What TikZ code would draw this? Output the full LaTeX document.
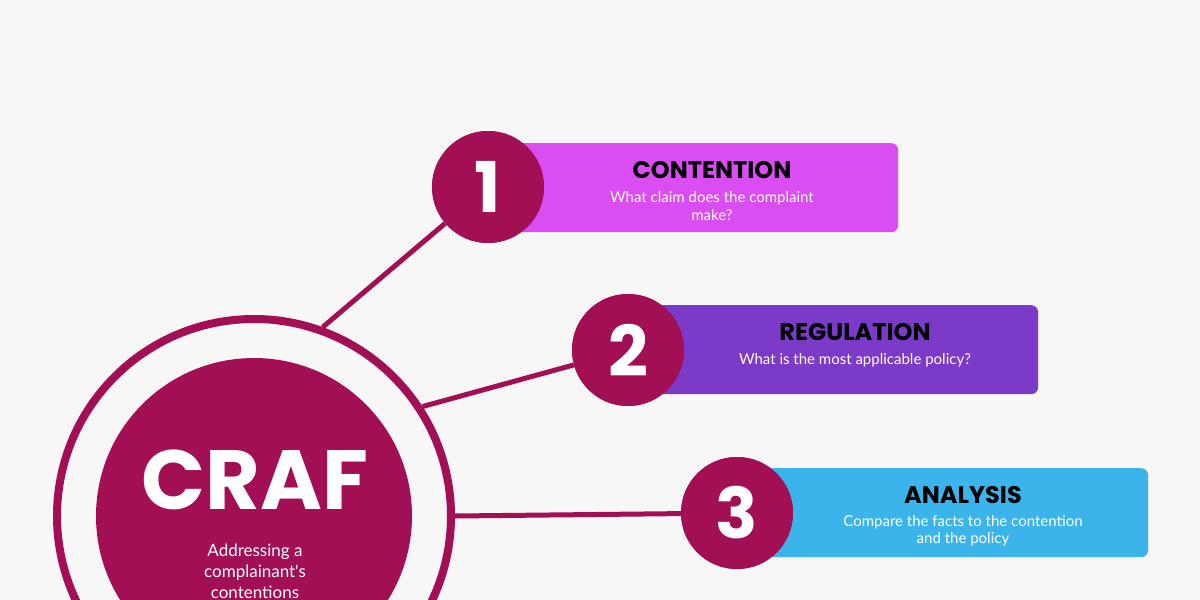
\documentclass[tikz,border=0pt]{standalone}
\usepackage{fontspec}
\setmainfont{Poppins}
\newfontfamily\bodyf{Lato}
\begin{document}
\begin{tikzpicture}[x=1pt,y=-1pt,
  numc/.style={circle,fill=craf,minimum size=112pt,inner sep=0pt,text=white,font=\fontsize{70}{70}\selectfont\bfseries},
  box/.style={rounded corners=7pt,minimum width=383pt,minimum height=89pt,anchor=north west,inner sep=0pt},
  ttl/.style={font=\fontsize{24}{24}\selectfont\bfseries,text=black},
  sub/.style={font=\bodyf\fontsize{15}{17.5}\selectfont,text=white,align=center},
  conn/.style={draw=craf,line width=5pt}]
\definecolor{craf}{HTML}{A30F55}
\definecolor{bg}{HTML}{F7F7F7}
\definecolor{c1}{HTML}{DA4DF2}
\definecolor{c2}{HTML}{7B3AC8}
\definecolor{c3}{HTML}{3BB4EC}
\fill[bg] (0,0) rectangle (1200,600);
\useasboundingbox (0,0) rectangle (1200,600);
\node[circle,draw=craf,line width=8pt,minimum size=394pt,inner sep=0pt] (ring) at (254,516) {};
\node[circle,fill=craf,minimum size=316pt,inner sep=0pt] (core) at (254,516) {};
\node[text=white,font=\fontsize{84}{84}\selectfont\bfseries] (craf) at (255,480) {CRAF};
\node[sub,font=\bodyf\fontsize{17}{21}\selectfont] (addr) at (255,571) {Addressing a\\complainant's\\contentions};
\node[box,fill=c1] (b1) at (515,143) {};
\node[box,fill=c2] (b2) at (655,305) {};
\node[box,fill=c3] (b3) at (765,468) {};
\node[numc] (n1) at (488,187) {1};
\node[numc] (n2) at (628,350) {2};
\node[numc] (n3) at (737,513) {3};
\node[ttl] (t1) at (712,170) {CONTENTION};
\node[sub] (s1) at (712,206) {What claim does the complaint\\make?};
\node[ttl] (t2) at (855,332) {REGULATION};
\node[sub] (s2) at (855,360) {What is the most applicable policy?};
\node[ttl] (t3) at (963,495) {ANALYSIS};
\node[sub] (s3) at (963,531) {Compare the facts to the contention\\and the policy};
\draw[conn] (ring.70) -- (n1);
\draw[conn] (ring.33) -- (n2);
\draw[conn] (ring.0) -- (n3);
\node[numc] at (n1) {1};
\node[numc] at (n2) {2};
\node[numc] at (n3) {3};
\end{tikzpicture}
\end{document}
